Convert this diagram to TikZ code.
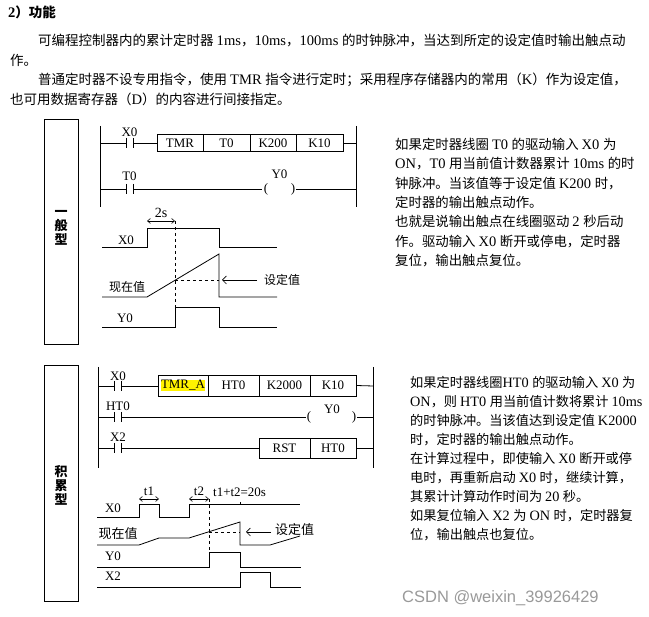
\documentclass[tikz,border=0pt]{standalone}
\usepackage{fontspec}
\setmainfont{Liberation Serif}[Scale=1.08]
\newfontfamily\cjkfont{Noto Sans CJK SC}
\newfontfamily\latinfont{Liberation Serif}[Scale=1.08]
\newfontfamily\wmfont{Liberation Sans}
\newcommand\wmstyle{\XeTeXinterchartokenstate=0\relax\wmfont}
\usetikzlibrary{arrows.meta}
\XeTeXinterchartokenstate=1
\newXeTeXintercharclass\CJKcls
\newcount\cc
\cc="4E00 \loop\XeTeXcharclass\cc=\CJKcls \advance\cc 1 \ifnum\cc<"A000 \repeat
\cc="3000 \loop\XeTeXcharclass\cc=\CJKcls \advance\cc 1 \ifnum\cc<"3040 \repeat
\cc="FF00 \loop\XeTeXcharclass\cc=\CJKcls \advance\cc 1 \ifnum\cc<"FFF0 \repeat
\XeTeXinterchartoks 0 \CJKcls = {\cjkfont}
\XeTeXinterchartoks 4095 \CJKcls = {\cjkfont}
\XeTeXinterchartoks \CJKcls 0 = {\latinfont}
\XeTeXinterchartoks 4095 0 = {\latinfont}
\tikzset{
  body/.style={anchor=west,inner sep=0pt,font=\fontsize{13.5}{15}\selectfont},
  lbl/.style={inner sep=0pt,font=\fontsize{12}{14}\selectfont},
  rtxt/.style={anchor=north west,inner sep=0pt,align=left,font=\fontsize{13.4}{19.3}\selectfont},
  wire/.style={line width=0.8pt},
  cell/.style={draw,line width=0.8pt,minimum height=17pt,inner sep=0pt,font=\fontsize{12}{14}\selectfont},
  dimarr/.style={line width=0.6pt,{Straight Barb[length=3pt,width=5pt]}-{Straight Barb[length=3pt,width=5pt]}},
  vbox/.style={draw,line width=1pt},
  vlab/.style={align=center,inner sep=0pt,font=\fontsize{13}{14}\selectfont\bfseries}
}
\newcommand{\contact}[3]{% x, y, name
  \draw[wire] (#1,#2-5) -- (#1,#2+5) (#1+7,#2-5) -- (#1+7,#2+5);}
\begin{document}
\begin{tikzpicture}[x=1pt,y=-1pt]
\useasboundingbox (0,0) rectangle (649,617);
% top text
\node[body,font=\fontsize{13.5}{15}\selectfont\bfseries] (h) at (8,12) {2）功能};
\node[body] (p1) at (38,41) {可编程控制器内的累计定时器 1ms，10ms，100ms 的时钟脉冲，当达到所定的设定值时输出触点动};
\node[body] (p2) at (10,60) {作。};
\node[body] (p3) at (38,80) {普通定时器不设专用指令，使用 TMR 指令进行定时；采用程序存储器内的常用（K）作为设定值，};
\node[body] (p4) at (10,99) {也可用数据寄存器（D）的内容进行间接指定。};
% ===== block 1 =====
\draw[vbox] (44,120) rectangle (78,345);
\node[vlab] (v1) at (61,228) {一\\般\\型};
\draw[wire] (100,126) -- (100,207);
\draw[wire] (356,126) -- (356,207);
\contact{126}{143}{}
\draw[wire] (100,143) -- (126,143) (133,143) -- (157,143);
\node[cell,minimum width=46pt] (b1) at (180,143) {TMR};
\node[cell,minimum width=47pt] (b2) at (226.5,143) {T0};
\node[cell,minimum width=46pt] (b3) at (273,143) {K200};
\node[cell,minimum width=47pt] (b4) at (319.5,143) {K10};
\draw[wire] (b4.east) -- (356,143);
\node[lbl] (lx0) at (129.5,132) {X0};
\contact{126}{189}{}
\draw[wire] (100,189) -- (126,189) (133,189) -- (262,189);
\node[lbl] (lt0) at (129.5,176) {T0};
\node[lbl] (c1l) at (266,189) {(};
\node[lbl] (c1r) at (293,189) {)};
\node[lbl] (ly0) at (279.5,174) {Y0};
\draw[wire] (296,189) -- (356,189);
% timing 1
\draw[wire] (102,247) -- (147,247) -- (147,228) -- (219,228) -- (219,247) -- (277,247);
\node[lbl] (tx0) at (126,240) {X0};
\draw[dimarr] (147,221) -- (175,221);
\node[lbl,font=\fontsize{13}{14}\selectfont] (t2s) at (161,213) {2s};
\draw[line width=0.6pt,dashed] (175,221) -- (175,307);
\draw[wire] (102,297) -- (147,297) -- (219,254) -- (219,297) -- (277,297);
\draw[line width=0.6pt,dashed] (175,280) -- (219,280);
\coordinate (ah1) at (222,280);
\draw[line width=0.7pt,-{Straight Barb[length=4pt,width=8pt]}] (257,280) -- (ah1);
\node[lbl,anchor=west] (sv1) at (264,280) {设定值};
\node[lbl] (pv1) at (127,287) {现在值};
\draw[wire] (102,327) -- (175,327) -- (175,307) -- (219,307) -- (219,327) -- (277,327);
\node[lbl] (ty0) at (125,318) {Y0};
% text 1
\node[rtxt] (r1) at (395,138) {如果定时器线圈 T0 的驱动输入 X0 为\\ON，T0 用当前值计数器累计 10ms 的时\\钟脉冲。当该值等于设定值 K200 时，\\定时器的输出触点动作。\\也就是说输出触点在线圈驱动 2 秒后动\\作。驱动输入 X0 断开或停电，定时器\\复位，输出触点复位。};
% ===== block 2 =====
\draw[vbox] (44,366) rectangle (78,602);
\node[vlab] (v2) at (61,485) {积\\累\\型};
\draw[wire] (98,367) -- (98,468);
\draw[wire] (373,367) -- (373,468);
\contact{114}{386}{}
\draw[wire] (98,386) -- (114,386) (121,386) -- (158,386);
\node[cell,minimum width=50pt,minimum height=21pt] (e1) at (183,385.5) {};
\node[inner sep=0.5pt,fill=yellow,font=\fontsize{12}{14}\selectfont] (ta) at (183,385.5) {TMR\_A};
\node[cell,minimum width=51pt,minimum height=21pt] (e2) at (233.5,385.5) {HT0};
\node[cell,minimum width=51pt,minimum height=21pt] (e3) at (284.5,385.5) {K2000};
\node[cell,minimum width=46pt,minimum height=21pt] (e4) at (333,385.5) {K10};
\draw[wire] (e4.east) -- (373,386);
\node[lbl] (lx02) at (118,376) {X0};
\contact{114}{417}{}
\draw[wire] (98,417) -- (114,417) (121,417) -- (306,417);
\node[lbl] (lht0) at (118,406) {HT0};
\node[lbl] (c2l) at (309,417) {(};
\node[lbl] (c2r) at (354,417) {)};
\node[lbl] (ly02) at (332,409) {Y0};
\draw[wire] (357,417) -- (373,417);
\contact{114}{448}{}
\draw[wire] (98,448) -- (114,448) (121,448) -- (259,448);
\node[cell,minimum width=51pt,minimum height=20pt] (f1) at (284.5,448) {RST};
\node[cell,minimum width=46pt,minimum height=20pt] (f2) at (333,448) {HT0};
\draw[wire] (f2.east) -- (373,448);
\node[lbl] (lx2) at (118,437) {X2};
% timing 2
\draw[wire] (97,517) -- (139,517) -- (139,504) -- (159,504) -- (159,517) -- (189,517) -- (189,504) -- (300,504);
\draw[line width=0.5pt] (240,502) -- (240,504);
\node[lbl] (tx02) at (113,508) {X0};
\draw[dimarr] (139,499) -- (159,499);
\node[lbl] (tt1) at (149,491) {t1};
\draw[dimarr] (189,499) -- (209,499);
\node[lbl] (tt2) at (199,491) {t2};
\node[lbl,anchor=west] (tsum) at (213,492) {t1+t2=20s};
\draw[line width=0.6pt,dashed] (209,499) -- (209,567);
\draw[wire] (97,545) -- (139,545) -- (159,538) -- (189,538) -- (240,522) -- (240,545) -- (270,545) -- (300,536);
\draw[line width=0.6pt,dashed] (209,532) -- (240,532);
\coordinate (ah2) at (246,532);
\draw[line width=0.7pt,-{Straight Barb[length=4pt,width=8pt]}] (271,532) -- (ah2);
\node[lbl,anchor=west,font=\fontsize{13}{14}\selectfont] (sv2) at (275,530) {设定值};
\node[lbl,font=\fontsize{13}{14}\selectfont] (pv2) at (118,534) {现在值};
\draw[wire] (97,567) -- (209,567) -- (209,552) -- (240,552) -- (240,567) -- (301,567);
\node[lbl] (ty02) at (113,556) {Y0};
\draw[wire] (97,587) -- (240,587) -- (240,572) -- (270,572) -- (270,587) -- (301,587);
\node[lbl] (tx2) at (113,576) {X2};
% text 2
\node[rtxt,font=\fontsize{13.2}{19}\selectfont] (r2) at (410,376) {如果定时器线圈HT0 的驱动输入 X0 为\\ON，则 HT0 用当前值计数将累计 10ms\\的时钟脉冲。当该值达到设定值 K2000\\时，定时器的输出触点动作。\\在计算过程中，即使输入 X0 断开或停\\电时，再重新启动 X0 时，继续计算，\\其累计计算动作时间为 20 秒。\\如果复位输入 X2 为 ON 时，定时器复\\位，输出触点也复位。};
\node[anchor=west,inner sep=0pt,text=black!40,font=\wmstyle\fontsize{16.5}{18}\selectfont] (wm) at (402,598) {CSDN @weixin\_39926429};
\end{tikzpicture}
\end{document}
